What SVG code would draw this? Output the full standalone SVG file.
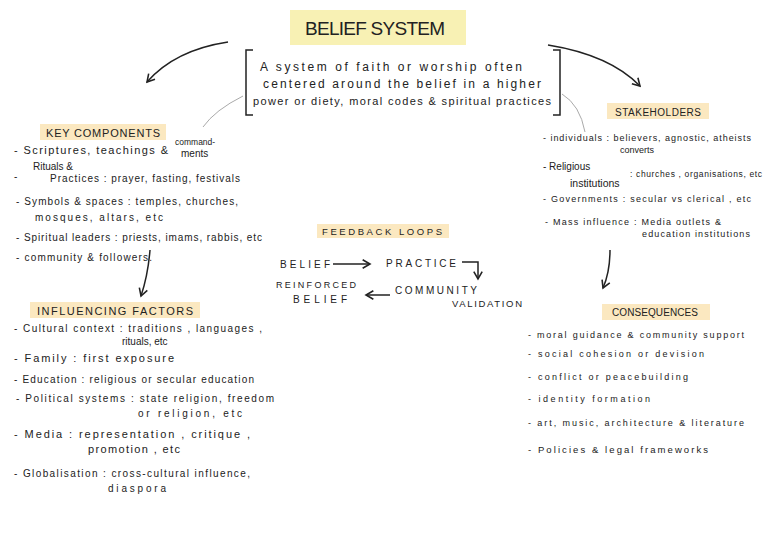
<svg xmlns="http://www.w3.org/2000/svg" width="768" height="534" viewBox="0 0 768 534">
<defs>
<style>
text{font-family:"Liberation Sans","DejaVu Sans",sans-serif;fill:#222;font-size:10px}
.h{font-size:11px}
.hl{fill:#fbe8c0}
.ln{fill:none;stroke:#222;stroke-width:1.5}
.gr{fill:none;stroke:#aaa;stroke-width:1}
</style>
<marker id="a" viewBox="0 0 10 10" refX="8" refY="5" markerWidth="7" markerHeight="7" orient="auto-start-reverse"><path d="M1,1 L8,5 L1,9" fill="none" stroke="#222" stroke-width="1.5"/></marker>
</defs>
<rect width="768" height="534" fill="#fff"/>
<g id="title">
<rect x="290" y="10" width="176" height="35" fill="#f8f1b4"/>
<text x="305" y="35" textLength="140" style="font-size:19px">BELIEF SYSTEM</text>
<path class="ln" d="M253,50 H246 V115 H253 M553,50 H560 V115 H553"/>
<text x="260" y="71" textLength="262" style="font-size:12px">A system of faith or worship often</text>
<text x="263" y="88" textLength="278" style="font-size:12px">centered around the belief in a higher</text>
<text x="253" y="105" textLength="298" style="font-size:11px">power or diety, moral codes &amp; spiritual practices</text>
</g>
<g id="key-components">
<rect class="hl" x="40" y="124" width="126" height="16"/>
<text class="h" x="46" y="137" textLength="114">KEY COMPONENTS</text>
<text x="14" y="154" textLength="154" style="font-size:11px">- Scriptures, teachings &amp;</text>
<text x="175" y="145" style="font-size:8.5px">command-</text>
<text x="181" y="157">ments</text>
<text x="33" y="170">Rituals &amp;</text>
<text x="14" y="180">-</text>
<text x="50" y="182" textLength="190">Practices : prayer, fasting, festivals</text>
<text x="16" y="205" textLength="222">- Symbols &amp; spaces : temples, churches,</text>
<text x="35" y="221" textLength="128">mosques, altars, etc</text>
<text x="16" y="241" textLength="246">- Spiritual leaders : priests, imams, rabbis, etc</text>
<text x="16" y="261" textLength="136">- community &amp; followers.</text>
</g>
<g id="influencing-factors">
<rect class="hl" x="30" y="302" width="170" height="16"/>
<text class="h" x="37" y="315" textLength="156">INFLUENCING FACTORS</text>
<text x="14" y="332" textLength="248">- Cultural context : traditions , languages ,</text>
<text x="122" y="345">rituals, etc</text>
<text x="14" y="362" textLength="160" style="font-size:11px">- Family : first exposure</text>
<text x="14" y="383" textLength="240">- Education : religious or secular education</text>
<text x="16" y="402" textLength="258">- Political systems : state religion, freedom</text>
<text x="138" y="417" textLength="104">or religion, etc</text>
<text x="14" y="438" textLength="236" style="font-size:11px">- Media : representation , critique ,</text>
<text x="88" y="453" textLength="92" style="font-size:11px">promotion , etc</text>
<text x="14" y="477" textLength="236">- Globalisation : cross-cultural influence,</text>
<text x="108" y="492" textLength="58">diaspora</text>
</g>
<g id="feedback-loops">
<rect class="hl" x="317" y="224" width="132" height="14"/>
<text class="h" x="322" y="235" textLength="120" style="font-size:9.5px">FEEDBACK LOOPS</text>
<text x="280" y="268" textLength="50">BELIEF</text>
<text x="386" y="267" textLength="70">PRACTICE</text>
<text x="276" y="288" textLength="80" style="font-size:9px">REINFORCED</text>
<text x="293" y="303" textLength="54">BELIEF</text>
<text x="395" y="294" textLength="82" style="font-size:10px">COMMUNITY</text>
<text x="452" y="307" textLength="70" style="font-size:9.5px">VALIDATION</text>
</g>
<g id="stakeholders">
<rect class="hl" x="607" y="103" width="102" height="16"/>
<text class="h" x="615" y="116" textLength="86" style="font-size:10px">STAKEHOLDERS</text>
<text x="543" y="141" textLength="208" style="font-size:9px">- individuals : believers, agnostic, atheists</text>
<text x="620" y="153" style="font-size:9px">converts</text>
<text x="543" y="170" style="font-size:10px">- Religious</text>
<text x="570" y="187" style="font-size:10.5px">institutions</text>
<text x="630" y="177" textLength="132" style="font-size:8.5px">: churches , organisations, etc</text>
<text x="543" y="202" textLength="208" style="font-size:9px">- Governments : secular vs clerical , etc</text>
<text x="545" y="225" textLength="176" style="font-size:9px">- Mass influence : Media outlets &amp;</text>
<text x="642" y="237" textLength="108" style="font-size:9px">education institutions</text>
</g>
<g id="consequences">
<rect class="hl" x="602" y="304" width="108" height="16"/>
<text class="h" x="612" y="316" textLength="86" style="font-size:10px">CONSEQUENCES</text>
<text x="528" y="338" textLength="216" style="font-size:9px">-  moral guidance &amp; community support</text>
<text x="528" y="357" textLength="176" style="font-size:9px">-  social cohesion or devision</text>
<text x="528" y="380" textLength="160" style="font-size:9px">-  conflict or peacebuilding</text>
<text x="528" y="402" textLength="122" style="font-size:9px">-  identity formation</text>
<text x="528" y="426" textLength="216" style="font-size:9px">-  art, music, architecture &amp; literature</text>
<text x="528" y="453" textLength="180" style="font-size:9.5px">-  Policies &amp; legal frameworks</text>
</g>
<g id="connectors">
<path class="ln" d="M228,42 Q175,50 147,82" marker-end="url(#a)"/>
<path class="ln" d="M548,45 Q610,55 640,86" marker-end="url(#a)"/>
<path class="gr" d="M243,96 Q215,110 203,127"/>
<path class="gr" d="M562,94 Q580,105 585,132"/>
<path class="ln" d="M150,250 Q148,275 141,296" marker-end="url(#a)"/>
<path class="ln" d="M610,250 Q610,272 603,288" marker-end="url(#a)"/>
<path class="ln" d="M333,264 H370" marker-end="url(#a)"/>
<path class="ln" d="M462,262 H478 V279" marker-end="url(#a)"/>
<path class="ln" d="M390,295 H366" marker-end="url(#a)"/>
</g>
</svg>
